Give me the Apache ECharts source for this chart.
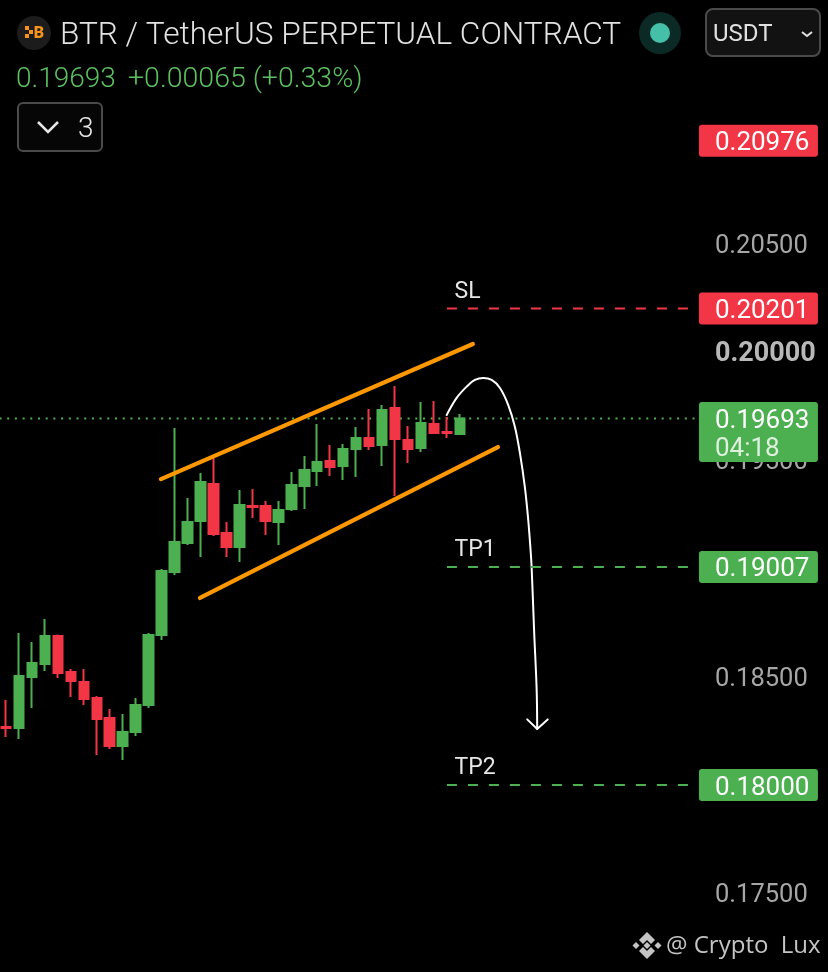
<!DOCTYPE html>
<html><head><meta charset="utf-8">
<style>html,body{margin:0;padding:0;background:#000}#c{width:828px;height:972px}</style>
<script src="https://cdn.jsdelivr.net/npm/echarts@6/dist/echarts.min.js"></script>
</head><body><div id="c"></div>
<script>
const titleText = 'BTR / TetherUS PERPETUAL CONTRACT';
const quoteText = ['0.19693', '+0.00065', '(+0.33%)'];
const opens  = [.18268,.18263,.18499,.18559,.18688,.18522,.18476,.18402,.18309,.18180,.18245,.18370,.18693,.18984,.19118,.19219,.19390,.19164,.19099,.19289,.19289,.19215,.19275,.19381,.19450,.19497,.19473,.19552,.19603,.19570,.19741,.19594,.19557,.19667,.19630,.19621];
const closes = [.18263,.18503,.18563,.18688,.18517,.18480,.18397,.18305,.18180,.18245,.18370,.18693,.18988,.19122,.19215,.19400,.19159,.19099,.19293,.19284,.19219,.19270,.19386,.19455,.19492,.19469,.19552,.19603,.19566,.19732,.19598,.19552,.19672,.19626,.19626,.19693];
const lows   = [.18222,.18212,.18356,.18527,.18494,.18406,.18370,.18139,.18166,.18115,.18226,.18356,.18670,.18970,.19109,.19053,.19150,.19053,.19030,.19233,.19155,.19109,.19266,.19275,.19381,.19427,.19409,.19423,.19547,.19473,.19335,.19487,.19538,.19621,.19603,.19621];
const highs  = [.18393,.18702,.18660,.18767,.18695,.18536,.18536,.18411,.18351,.18328,.18402,.18702,.18998,.19649,.19326,.19441,.19524,.19215,.19363,.19367,.19312,.19312,.19446,.19520,.19667,.19570,.19575,.19654,.19737,.19755,.19843,.19658,.19769,.19774,.19700,.19714];
const slots = 64;
const categories = Array.from({length: slots}, (_, i) => String(i));
const channelUpper = [[11.95,.19413],[36.0,.20037]];
const channelLower = [[14.96,.18864],[37.93,.19561]];
const curve = [[33.98,.19709],[34.75,.19788],[35.52,.19840],[36.16,.19871],[36.80,.19880],[37.45,.19871],[38.09,.19834],[38.73,.19755],[39.24,.19655],[39.63,.19533],[40.01,.19376],[40.27,.19224],[40.45,.19085],[40.53,.19008],[40.73,.18702],[40.92,.18439],[40.96,.18259]];
const arrowHead = [[40.19,.18303],[40.96,.18259],[41.77,.18303]];
const lastPrice = .19693, slPrice = .20201, tp1Price = .19007, tp2Price = .18000, highTag = .20976;
const dashFrom = 34.0, dashTo = 52.9, tagX = 58.02, textX = 34.55;
const textMarks = [['SL',.20274],['TP1',.19083],['TP2',.18076]];

const GREEN = '#4CAF50', RED = '#F23645', FONT = 'Roboto, sans-serif';
const chart = echarts.init(document.getElementById('c'), null, {renderer:'canvas'});

function annot(data, color, width, extra) {
  return Object.assign({type:'line', xAxisIndex:1, yAxisIndex:0, data, silent:true, symbol:'none', animation:false,
    lineStyle:{color, width, cap:'round'}, z:3}, extra||{});
}
function dashed(p, color) {
  return annot([[dashFrom,p],[dashTo,p]], color, 2, {lineStyle:{color, width:2, type:[10,11]}});
}
function tag(p, color, text) {
  return {type:'scatter', xAxisIndex:1, yAxisIndex:0, symbolSize:1, silent:true, animation:false, z:6,
    itemStyle:{color:'transparent', opacity:1}, data:[[tagX,p]],
    label:{show:true, position:'inside', formatter:'{v|'+text+'}',
      backgroundColor:color, borderRadius:3, width:103, height:26, padding:[6,0,0,16], align:'center', verticalAlign:'middle',
      rich:{v:{color:'#fff', fontFamily:FONT, fontSize:26, lineHeight:26, width:103, align:'left'}}}};
}
const fmt = v => v.toFixed(5);

chart.setOption({
  backgroundColor:'#000', animation:false,
  grid:{left:-0.5, width:830, top:-81, height:1082.5, outerBoundsMode:'none', containLabel:false},
  xAxis:[
    {type:'category', data:categories, show:false, boundaryGap:true},
    {type:'value', min:-0.5, max:63.5, show:false}
  ],
  yAxis:[{type:'value', min:0.17, max:0.22, interval:0.005, position:'right', scale:true,
    axisLine:{show:false}, axisTick:{show:false}, splitLine:{show:false},
    axisLabel:{inside:true, margin:114.5, fontFamily:FONT, fontSize:25.5, color:'#a6a6a6', align:'left', padding:[5,0,0,0],
      formatter:v => v>0.2101||v<0.171 ? '' : Math.abs(v-0.2)<1e-9 ? '{b|'+fmt(v)+'}' : fmt(v),
      rich:{b:{fontFamily:FONT, fontSize:27, fontWeight:'bold', color:'#b8b8b8'}}}
  }],
  series:[
    {type:'candlestick', xAxisIndex:0, yAxisIndex:0, barWidth:10, silent:true, z:2,
     itemStyle:{color:GREEN, color0:RED, borderColor:GREEN, borderColor0:RED, borderWidth:2},
     data:opens.map((o,i)=>[o,closes[i],lows[i],highs[i]])},
    annot([[-0.5,lastPrice],[53.4,lastPrice]], GREEN, 2, {lineStyle:{color:GREEN, width:2, type:[2,5.7]}, z:1}),
    annot(channelUpper, '#FF9800', 4.2),
    annot(channelLower, '#FF9800', 4.2),
    annot(curve, '#fff', 2, {smooth:0.35}),
    annot(arrowHead, '#fff', 2),
    dashed(slPrice, RED), dashed(tp1Price, GREEN), dashed(tp2Price, GREEN),
    tag(highTag, RED, fmt(highTag)), tag(slPrice, RED, fmt(slPrice)),
    tag(tp1Price, GREEN, fmt(tp1Price)), tag(tp2Price, GREEN, fmt(tp2Price)),
    {type:'scatter', xAxisIndex:1, yAxisIndex:0, symbolSize:1, silent:true, animation:false, z:6,
     itemStyle:{color:'transparent', opacity:1}, data:[[tagX,lastPrice]],
     label:{show:true, position:'inside', offset:[0,13.5], formatter:'{a|'+fmt(lastPrice)+'}\n{t|04:18}',
       backgroundColor:GREEN, borderRadius:3, width:103, height:54, padding:[6,0,0,16], align:'center', verticalAlign:'middle',
       rich:{a:{color:'#fff', fontFamily:FONT, fontSize:26, lineHeight:28, width:103, align:'left'},
             t:{color:'#dff0df', fontFamily:FONT, fontSize:26, lineHeight:28, width:103, align:'left'}}}},
    {type:'scatter', xAxisIndex:1, yAxisIndex:0, symbolSize:1, silent:true, animation:false, z:5,
     itemStyle:{color:'transparent', opacity:1}, data:textMarks.map(m=>({value:[textX,m[1]], name:m[0]})),
     label:{show:true, position:'right', distance:0, formatter:'{b}', color:'#e6e6e6', fontFamily:FONT, fontSize:23}}
  ],
  graphic:[
    {type:'circle', shape:{cx:34,cy:33,r:17}, style:{fill:'#1c1c1c'}},
    {type:'text', x:39, y:34, style:{text:'B', fill:'#F7931A', font:'900 16px '+FONT, align:'center', verticalAlign:'middle'}},
    {type:'rect', shape:{x:25,y:26,width:4,height:4}, style:{fill:'#F7931A'}},
    {type:'rect', shape:{x:29,y:30,width:4,height:4}, style:{fill:'#F7931A'}},
    {type:'rect', shape:{x:25,y:34,width:4,height:4}, style:{fill:'#F7931A'}},
    {type:'text', x:60, y:36, style:{text:titleText, fill:'#e2e2e2', font:'300 31.6px '+FONT, verticalAlign:'middle'}},
    {type:'circle', shape:{cx:660,cy:33,r:21}, style:{fill:'#0b2a26'}},
    {type:'circle', shape:{cx:660,cy:33,r:10}, style:{fill:'#45BFA8'}},
    {type:'rect', shape:{x:706,y:9,width:114,height:47,r:7}, style:{fill:'#121212', stroke:'#4a4a4a', lineWidth:2}},
    {type:'text', x:713, y:35, style:{text:'USDT', fill:'#e0e0e0', font:'400 24px '+FONT, verticalAlign:'middle'}},
    {type:'polyline', shape:{points:[[802,32],[807,36],[812,32]]}, style:{stroke:'#e0e0e0', lineWidth:2, fill:null}},
    {type:'text', x:16, y:80, style:{text:quoteText[0], fill:'#5cc060', font:'300 28px '+FONT, verticalAlign:'middle'}},
    {type:'text', x:128, y:80, style:{text:quoteText[1]+' '+quoteText[2], fill:'#5cc060', font:'300 28.5px '+FONT, verticalAlign:'middle'}},
    {type:'rect', shape:{x:18,y:103,width:84,height:48,r:5}, style:{fill:'#060606', stroke:'#4a4a4a', lineWidth:2}},
    {type:'polyline', shape:{points:[[38,122],[48,132],[58,122]]}, style:{stroke:'#e6e6e6', lineWidth:2.5, fill:null}},
    {type:'text', x:78, y:130, style:{text:'3', fill:'#e6e6e6', font:'300 28px '+FONT, verticalAlign:'middle'}},
    {type:'polygon', shape:{points:[[647,932],[655,940],[651,944],[647,940],[643,944],[639,940]]}, style:{fill:'#c4c4c4'}},
    {type:'polygon', shape:{points:[[647,959],[655,951],[651,947],[647,951],[643,947],[639,951]]}, style:{fill:'#c4c4c4'}},
    {type:'polygon', shape:{points:[[647,942],[650.5,945.5],[647,949],[643.5,945.5]]}, style:{fill:'#c4c4c4'}},
    {type:'polygon', shape:{points:[[636,942],[639.5,945.5],[636,949],[632.5,945.5]]}, style:{fill:'#c4c4c4'}},
    {type:'polygon', shape:{points:[[658,942],[661.5,945.5],[658,949],[654.5,945.5]]}, style:{fill:'#c4c4c4'}},
    {type:'text', x:666, y:946, style:{text:'@ Crypto  Lux', fill:'#c4c4c4', font:'400 24px "Open Sans", sans-serif', verticalAlign:'middle'}}
  ]
});
</script></body></html>
